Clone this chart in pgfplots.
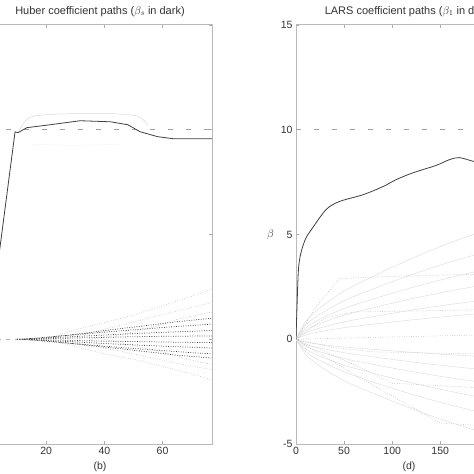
\documentclass[border=0pt]{standalone}
\usepackage{fontspec}
\setmainfont{Liberation Sans}
\usepackage{pgfplots}
\pgfplotsset{compat=1.18}
\pgfplotsset{
  matstyle/.style={
    scale only axis,
    axis line style={gray!55, line width=1pt},
    tick style={gray!65, line width=0.6pt},
    tick align=inside,
    major tick length=3pt,
    ymin=-5, ymax=15,
    ytick={-5,0,5,10,15},
    tick label style={black!80, font=\fontsize{10.5}{12}\selectfont},
    label style={black!80, font=\fontsize{10.5}{12}\selectfont},
    title style={black!80, font=\fontsize{11}{13}\selectfont, yshift=-1pt},
    /pgf/number format/assume math mode=true,
    clip=true,
  },
  lightpath/.style={gray!25, line width=0.5pt, smooth},
  dotpath/.style={gray!45, line width=0.6pt, dash pattern=on 0.8pt off 1.6pt},
  darkdot/.style={black!75, line width=0.75pt, dash pattern=on 0.8pt off 1.6pt},
  truth/.style={gray!75, line width=0.7pt, dash pattern=on 5pt off 13pt},
}
\begin{document}
\begin{tikzpicture}
\useasboundingbox (0,0) rectangle (474pt,474pt);
\clip (0,0) rectangle (474pt,474pt);
% ---------- left panel ----------
\begin{axis}[matstyle,
  at={(-12pt,30pt)}, anchor=south west,
  width=224pt, height=419pt,
  xmin=0, xmax=77,
  xtick={0,20,40,60},
  xticklabels={,20,40,60},
  yticklabels={},
  title={Huber coefficient paths ($\beta_s$ in dark)},
  xlabel={(b)},
]
\addplot[truth] coordinates {(0,10) (77,10)};
\addplot[gray!60, line width=0.5pt, dash pattern=on 4pt off 5pt] coordinates {(0,0) (10,0)};
% faint band lines
\addplot[gray!30, line width=0.5pt, smooth] coordinates {(10.5,9.9) (14.5,10.6) (25,10.75) (40,10.78) (51.4,10.65) (55,10.2)};
\addplot[gray!25, line width=0.5pt, dash pattern=on 1pt off 2pt] coordinates {(15,9.3) (30,9.25) (45,9.3)};
% outer light paths
\addplot[dotpath] coordinates {(20,0) (30,0.45) (40,0.8) (50,1.15) (60,1.6) (70,2.05) (77,2.4)};
\addplot[dotpath] coordinates {(20,0) (30,-0.35) (40,-0.7) (50,-0.95) (60,-1.3) (70,-1.65) (77,-1.95)};
\addplot[dotpath] coordinates {(25,0) (35,0.3) (45,0.65) (55,1.0) (65,1.35) (77,1.75)};
\addplot[dotpath] coordinates {(25,0) (35,-0.3) (45,-0.55) (55,-0.85) (65,-1.15) (77,-1.45)};
\addplot[dotpath] coordinates {(35,0) (45,0.2) (55,0.5) (65,0.95) (77,1.3)};
\addplot[dotpath] coordinates {(40,0) (50,-0.3) (60,-0.6) (70,-1.0) (77,-1.2)};
% core dark paths
\addplot[darkdot] coordinates {(10,0) (20,0.03) (30,0.06) (40,0.09) (50,0.12) (60,0.14) (70,0.15) (77,0.16)};
\addplot[darkdot] coordinates {(10,0) (20,-0.03) (30,-0.06) (40,-0.09) (50,-0.11) (60,-0.13) (70,-0.15) (77,-0.16)};
\addplot[darkdot] coordinates {(10,0) (20,0.06) (30,0.13) (40,0.2) (50,0.27) (60,0.33) (70,0.38) (77,0.42)};
\addplot[darkdot] coordinates {(10,0) (20,-0.06) (30,-0.13) (40,-0.2) (50,-0.27) (60,-0.33) (70,-0.38) (77,-0.42)};
\addplot[darkdot] coordinates {(12,0) (20,0.1) (30,0.22) (40,0.34) (50,0.45) (60,0.56) (70,0.66) (77,0.72)};
\addplot[darkdot] coordinates {(12,0) (20,-0.1) (30,-0.22) (40,-0.33) (50,-0.44) (60,-0.54) (70,-0.64) (77,-0.7)};
\addplot[darkdot] coordinates {(15,0) (25,0.15) (35,0.32) (45,0.5) (55,0.66) (65,0.84) (77,1.0)};
\addplot[darkdot] coordinates {(15,0) (25,-0.14) (35,-0.3) (45,-0.45) (55,-0.6) (65,-0.76) (77,-0.9)};
% dark coefficient path
\addplot[black!75, line width=0.8pt] coordinates {
 (0,0) (9.3,9.9) (10.3,9.86) (13.4,10.1) (21.4,10.24) (31.7,10.43) (42.1,10.38)
 (48,10.24) (52.4,9.9) (58.3,9.67) (63.8,9.57) (77,9.57)};
\end{axis}
% ---------- right panel ----------
\begin{axis}[matstyle,
  at={(296pt,30pt)}, anchor=south west,
  width=226pt, height=419pt,
  xmin=0, xmax=235,
  xtick={0,50,100,150,200},
  xticklabels={0,50,100,150,},
  title={LARS coefficient paths ($\beta_1$ in dark)},
  xlabel={(d)},
  ylabel={$\beta$}, ylabel style={rotate=-90},
]
\addplot[truth] coordinates {(0,10) (235,10)};
% light paths
\addplot[lightpath] coordinates {(0,0) (10,0.85) (25,1.5) (50,2.3) (80,3.0) (120,3.85) (160,4.6) (200,5.25) (235,5.75)};
\addplot[lightpath] coordinates {(0,0) (10,0.68) (25,1.2) (50,1.84) (80,2.4) (120,3.08) (160,3.68) (200,4.2) (235,4.6)};
\addplot[lightpath] coordinates {(0,0) (10,0.54) (25,0.96) (50,1.47) (80,1.92) (120,2.46) (160,2.94) (200,3.36) (235,3.68)};
\addplot[lightpath] coordinates {(0,0) (10,0.43) (25,0.75) (50,1.15) (80,1.5) (120,1.93) (160,2.3) (200,2.63) (235,2.88)};
\addplot[lightpath] coordinates {(0,0) (10,0.31) (25,0.54) (50,0.83) (80,1.08) (120,1.39) (160,1.66) (200,1.89) (235,2.07)};
\addplot[lightpath] coordinates {(0,0) (10,0.2) (25,0.36) (50,0.55) (80,0.72) (120,0.92) (160,1.1) (200,1.26) (235,1.38)};
\addplot[lightpath] coordinates {(0,0) (10,-0.14) (25,-0.24) (50,-0.37) (80,-0.48) (120,-0.62) (160,-0.74) (200,-0.84) (235,-0.92)};
\addplot[lightpath] coordinates {(0,0) (10,-0.24) (25,-0.42) (50,-0.64) (80,-0.84) (120,-1.08) (160,-1.29) (200,-1.47) (235,-1.61)};
\addplot[lightpath] coordinates {(0,0) (10,-0.34) (25,-0.6) (50,-0.92) (80,-1.2) (120,-1.54) (160,-1.84) (200,-2.1) (235,-2.3)};
\addplot[lightpath] coordinates {(0,0) (10,-0.46) (25,-0.81) (50,-1.24) (80,-1.62) (120,-2.08) (160,-2.48) (200,-2.84) (235,-3.1)};
\addplot[lightpath] coordinates {(0,0) (10,-0.58) (25,-1.02) (50,-1.56) (80,-2.04) (120,-2.62) (160,-3.13) (200,-3.57) (235,-3.91)};
\addplot[lightpath] coordinates {(0,0) (10,-0.73) (25,-1.29) (50,-1.98) (80,-2.58) (120,-3.31) (160,-3.96) (200,-4.52) (235,-4.95)};
% dotted paths
\addplot[dotpath] coordinates {(0,0) (20,1.5) (45,2.9) (100,3.0) (185,3.1) (235,3.2)};
\addplot[dotpath] coordinates {(0,0) (30,1.0) (60,1.3) (185,1.4) (235,1.5)};
\addplot[dotpath] coordinates {(0,0) (185,0.2) (235,0.25)};
\addplot[dotpath] coordinates {(0,0) (40,-0.4) (80,-0.6) (185,-0.7) (235,-0.8)};
\addplot[dotpath] coordinates {(0,0) (60,-1.2) (100,-2.1) (185,-2.3) (235,-2.4)};
\addplot[dotpath] coordinates {(0,0) (80,-2.2) (150,-4.0) (185,-4.1) (235,-4.2)};
% dark path
\addplot[black!75, line width=0.8pt, smooth] coordinates {
 (0,0) (1,1.5) (2.5,3.3) (5,4.1) (10,4.8) (17,5.3) (31.3,6.19) (44.8,6.57) (69.8,6.9)
 (90.6,7.29) (104.2,7.62) (121.9,7.95) (145.8,8.3) (159.4,8.57) (169.8,8.67) (185.4,8.48)
 (200,8.35) (235,8.2)};
\end{axis}
\end{tikzpicture}
\end{document}
